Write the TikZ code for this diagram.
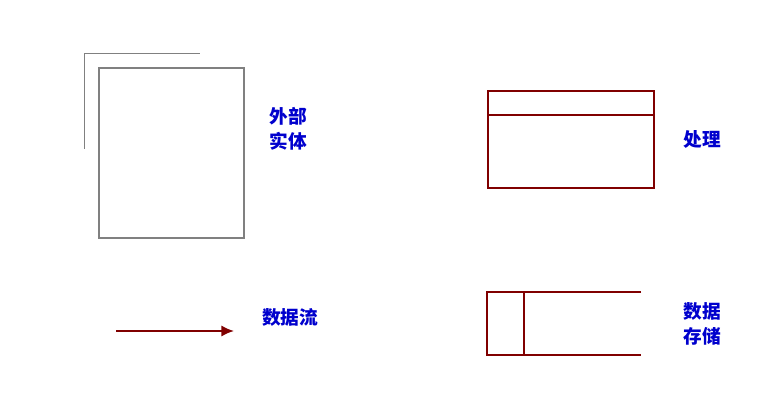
\documentclass[tikz,border=0pt]{standalone}
\usepackage{fontspec}
\newfontfamily\cjk{Noto Sans CJK SC}
\usepackage{tikz}
\usetikzlibrary{positioning, arrows.meta, calc}
\definecolor{darkred}{RGB}{128,0,0}
\definecolor{labelblue}{RGB}{0,0,205}
\tikzset{%
  legend/.style={font=\cjk\bfseries\fontsize{14}{19}\selectfont, text=labelblue, align=left, inner sep=0pt}, % labels next to the symbols
  symbol/.style={draw=darkred, line width=1.5pt}
}

\begin{document}
\begin{tikzpicture}[x=0.75pt, y=-0.75pt, >={Latex[length=9.5pt, width=8.5pt]}]
\useasboundingbox (0,0) rectangle (778,413);

% external entity
\node[draw=gray, line width=1.5pt, minimum width=145*0.75pt, minimum height=170*0.75pt, anchor=north west, inner sep=0pt] (entity) at (98,67) {};
\coordinate (sh0) at (84,149);
\coordinate (sh1) at (84,53);
\coordinate (sh2) at (200,53);
\draw[gray, line width=0.6pt] (sh0) -- (sh1) -- (sh2);
\node[legend] (l0) at (288,129) {外部\\实体};

% process
\node[symbol, minimum width=166*0.75pt, minimum height=97*0.75pt, anchor=north west, inner sep=0pt] (proc) at (487,90) {};
\draw[symbol] ($(proc.north west)+(0,25)$) -- ($(proc.north east)+(0,25)$);
\node[legend] (l1) at (702,139) {处理};

% data flow
\coordinate (f0) at (116,331);
\coordinate (f1) at (234,331);
\draw[->, darkred, line width=1.5pt] (f0) -- (f1);
\node[legend] (l2) at (290,317) {数据流};

% data store
\coordinate (s0) at (641,292);
\coordinate (s1) at (487,292);
\coordinate (s2) at (487,355);
\coordinate (s3) at (641,355);
\draw[symbol] (s0) -- (s1) -- (s2) -- (s3);
\draw[symbol] (524,292) -- (524,355);
\node[legend] (l3) at (702,324) {数据\\存储};

\end{tikzpicture}
\end{document}
